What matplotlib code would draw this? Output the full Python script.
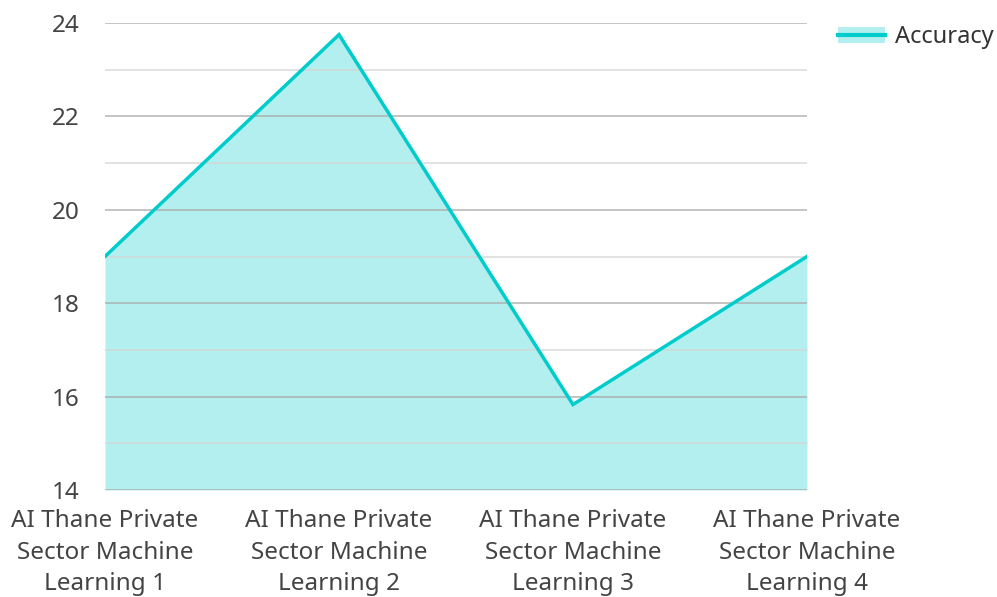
import matplotlib.pyplot as plt
from matplotlib.ticker import MultipleLocator
from matplotlib.patches import Patch
from matplotlib.lines import Line2D
from matplotlib.legend_handler import HandlerTuple

plt.rcParams['font.family'] = ['Noto Sans', 'DejaVu Sans']

categories = ["AI Thane Private\nSector Machine\nLearning 1",
              "AI Thane Private\nSector Machine\nLearning 2",
              "AI Thane Private\nSector Machine\nLearning 3",
              "AI Thane Private\nSector Machine\nLearning 4"]
accuracy = [19.0, 23.75, 15.83, 19.0]

line_color = "#00cccc"
fill_color = "#b2efee"

fig = plt.figure(figsize=(9.97, 5.97), dpi=100)
ax = fig.add_axes([0.1053, 0.1792, 0.7041, 0.7823])

x = list(range(len(categories)))
ax.fill_between(x, accuracy, 14, color=fill_color, linewidth=0, zorder=1)
ax.plot(x, accuracy, color=line_color, linewidth=2.5, zorder=3, solid_joinstyle="miter")

ax.set_xlim(0, 3)
ax.set_ylim(14, 24)
ax.yaxis.set_major_locator(MultipleLocator(2))
ax.yaxis.set_minor_locator(MultipleLocator(1))
ax.grid(which="major", axis="y", color="#aaaaaa", linewidth=1.3, alpha=0.75, zorder=2)
ax.grid(which="minor", axis="y", color="#d5d5d5", linewidth=1.3, alpha=0.75, zorder=2)
ax.set_axisbelow(False)

for s in ax.spines.values():
    s.set_visible(False)

ax.set_xticks(x)
ax.set_xticklabels(categories, linespacing=1.40)
ax.tick_params(axis="both", length=0, labelsize=17.5, colors="#444444")
ax.tick_params(axis="x", pad=14)
ax.tick_params(axis="y", pad=18)
ax.tick_params(which="minor", length=0)

handle = (Patch(facecolor=fill_color, edgecolor="none"),
          Line2D([0], [0], color=line_color, linewidth=3))
leg = fig.legend([handle], ["Accuracy"], loc="upper right",
                 bbox_to_anchor=(0.997, 0.958), frameon=False, fontsize=17,
                 handlelength=2.0, handletextpad=0.45,
                 borderpad=0, borderaxespad=0,
                 handler_map={tuple: HandlerTuple(ndivide=1)})
for t in leg.get_texts():
    t.set_color("#333333")

fig.savefig("out.png", dpi=100)
